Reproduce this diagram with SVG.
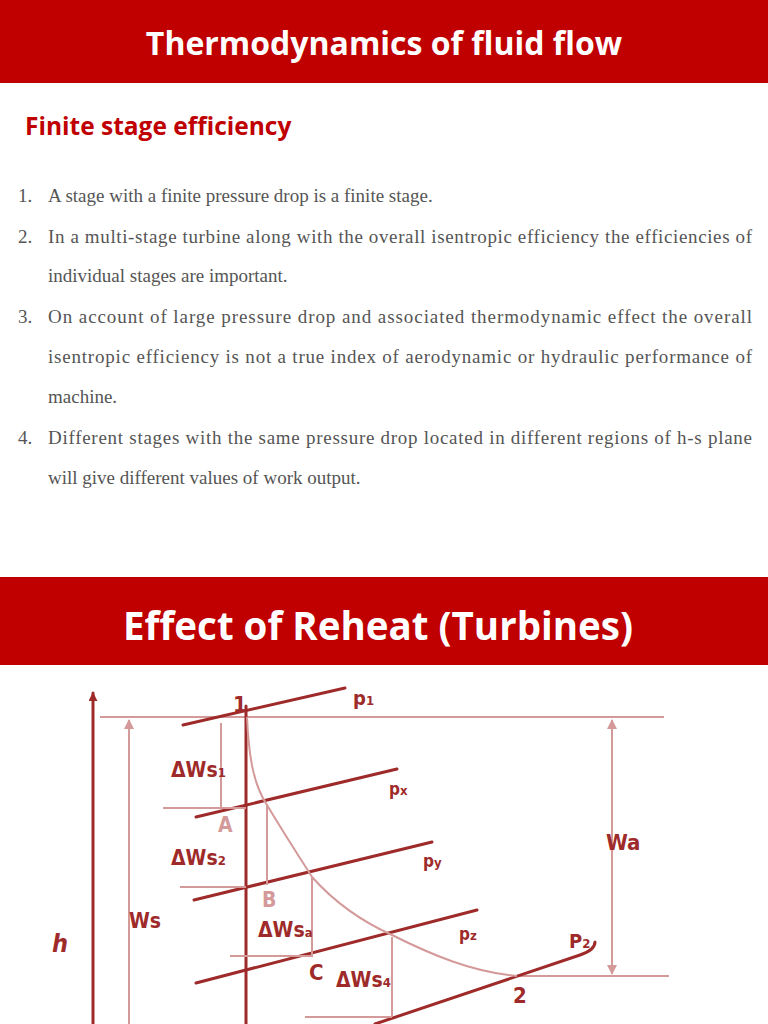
<svg xmlns="http://www.w3.org/2000/svg" width="768" height="1024" viewBox="0 0 768 1024">
<style>
.band{fill:#c00000}
.title{font-family:"Open Sans","DejaVu Sans",sans-serif;font-weight:bold;fill:#fff;text-anchor:middle}
.body{font-family:"Liberation Serif",serif;font-size:19px;fill:#555}
.d{stroke:#9e2a2a;stroke-width:3;fill:none;stroke-linecap:round}
.l{stroke:#d49a9a;stroke-width:2;fill:none}
.lb{font-family:"DejaVu Sans Condensed","DejaVu Sans",sans-serif;font-weight:bold;fill:#9e2a2a}
.lt{font-family:"DejaVu Sans Condensed","DejaVu Sans",sans-serif;font-weight:bold;fill:#d49a9a}
.s{font-size:13px}
</style>
<defs>
<marker id="ah" viewBox="0 0 10 10" refX="9" refY="5" markerWidth="5" markerHeight="5" orient="auto-start-reverse"><path d="M0,0L10,5L0,10z" fill="#d49a9a"/></marker>
<marker id="ahd" viewBox="0 0 10 10" refX="9" refY="5" markerWidth="3" markerHeight="3" orient="auto"><path d="M0,0L10,5L0,10z" fill="#9e2a2a"/></marker>
</defs>
<rect width="768" height="1024" fill="#fff"/>
<rect class="band" x="0" y="0" width="768" height="83"/>
<text class="title" x="384" y="55" font-size="32">Thermodynamics of fluid flow</text>
<text x="25" y="135" font-family="Open Sans,DejaVu Sans,sans-serif" font-weight="bold" font-size="24.5" fill="#c00000">Finite stage efficiency</text>
<g class="body">
<text x="18" y="202">1.</text><text x="48" y="202">A stage with a finite pressure drop is a finite stage.</text>
<text x="18" y="243">2.</text><text x="48" y="243" textLength="704" lengthAdjust="spacing">In a multi-stage turbine along with the overall isentropic efficiency the efficiencies of</text>
<text x="48" y="282">individual stages are important.</text>
<text x="18" y="323">3.</text><text x="48" y="323" textLength="704" lengthAdjust="spacing">On account of large pressure drop and associated thermodynamic effect the overall</text>
<text x="48" y="363" textLength="704" lengthAdjust="spacing">isentropic efficiency is not a true index of aerodynamic or hydraulic performance of</text>
<text x="48" y="403">machine.</text>
<text x="18" y="444">4.</text><text x="48" y="444" textLength="704" lengthAdjust="spacing">Different stages with the same pressure drop located in different regions of h-s plane</text>
<text x="48" y="484">will give different values of work output.</text>
</g>
<rect class="band" x="0" y="577" width="768" height="88"/>
<text class="title" x="378" y="640" font-size="38.5">Effect of Reheat (Turbines)</text>
<g id="connectors">
<line class="d" x1="93" y1="1024" x2="93" y2="693" marker-end="url(#ahd)"/>
<line class="l" x1="100" y1="717" x2="242" y2="717"/>
<line class="l" x1="242" y1="717" x2="664" y2="717" stroke-width="3"/>
<line class="l" x1="129" y1="1024" x2="129" y2="720" marker-end="url(#ah)"/>
<line class="l" x1="612" y1="720" x2="612" y2="974" marker-start="url(#ah)" marker-end="url(#ah)"/>
<line class="l" x1="517" y1="976" x2="669" y2="976"/>
<line class="d" x1="246" y1="706" x2="246" y2="1024"/>
<line class="d" x1="183" y1="725" x2="345" y2="688"/>
<line class="d" x1="196" y1="817" x2="397" y2="769"/>
<line class="d" x1="194" y1="900" x2="432" y2="842"/>
<line class="d" x1="196" y1="983" x2="477" y2="910"/>
<path class="d" d="M375,1024 L580,955 Q595,950 595,942"/>
<path class="l" stroke-width="3" d="M247,717 C249,760 254,785 267,805 C285,835 300,858 312,877 C337,905 363,922 392,935 C432,955 472,972 517,976"/>
<line class="l" x1="221" y1="723" x2="221" y2="807"/>
<line class="l" x1="163" y1="808" x2="246" y2="808"/>
<line class="l" x1="267" y1="805" x2="267" y2="885"/>
<line class="l" x1="180" y1="887" x2="246" y2="887"/>
<line class="l" x1="312" y1="877" x2="312" y2="957"/>
<line class="l" x1="230" y1="956" x2="312" y2="956"/>
<line class="l" x1="392" y1="937" x2="392" y2="1017"/>
<line class="l" x1="305" y1="1017" x2="392" y2="1017"/>
</g>
<g id="labels">
<text class="lb" x="233" y="712" font-size="22">1</text>
<text class="lb" x="353" y="705" font-size="20">p<tspan class="s">1</tspan></text>
<text class="lb" x="171" y="777" font-size="21">ΔWs<tspan class="s">1</tspan></text>
<text class="lb" x="389" y="795" font-size="17">p<tspan class="s">x</tspan></text>
<text class="lt" x="218" y="832" font-size="21">A</text>
<text class="lb" x="171" y="865" font-size="21">ΔWs<tspan class="s">2</tspan></text>
<text class="lb" x="423" y="867" font-size="17">p<tspan class="s">y</tspan></text>
<text class="lt" x="262" y="907" font-size="21">B</text>
<text class="lb" x="258" y="937" font-size="21">ΔWs<tspan class="s">a</tspan></text>
<text class="lb" x="459" y="940" font-size="17">p<tspan class="s">z</tspan></text>
<text class="lb" x="309" y="980" font-size="22">C</text>
<text class="lb" x="336" y="987" font-size="21">ΔWs<tspan class="s">4</tspan></text>
<text class="lb" x="569" y="948" font-size="20">P<tspan class="s">2</tspan></text>
<text class="lb" x="513" y="1003" font-size="22">2</text>
<text class="lb" x="129" y="928" font-size="21">Ws</text>
<text class="lb" x="52" y="952" font-size="25" font-style="italic">h</text>
<text class="lb" x="606" y="850" font-size="22">Wa</text>
</g>
</svg>
